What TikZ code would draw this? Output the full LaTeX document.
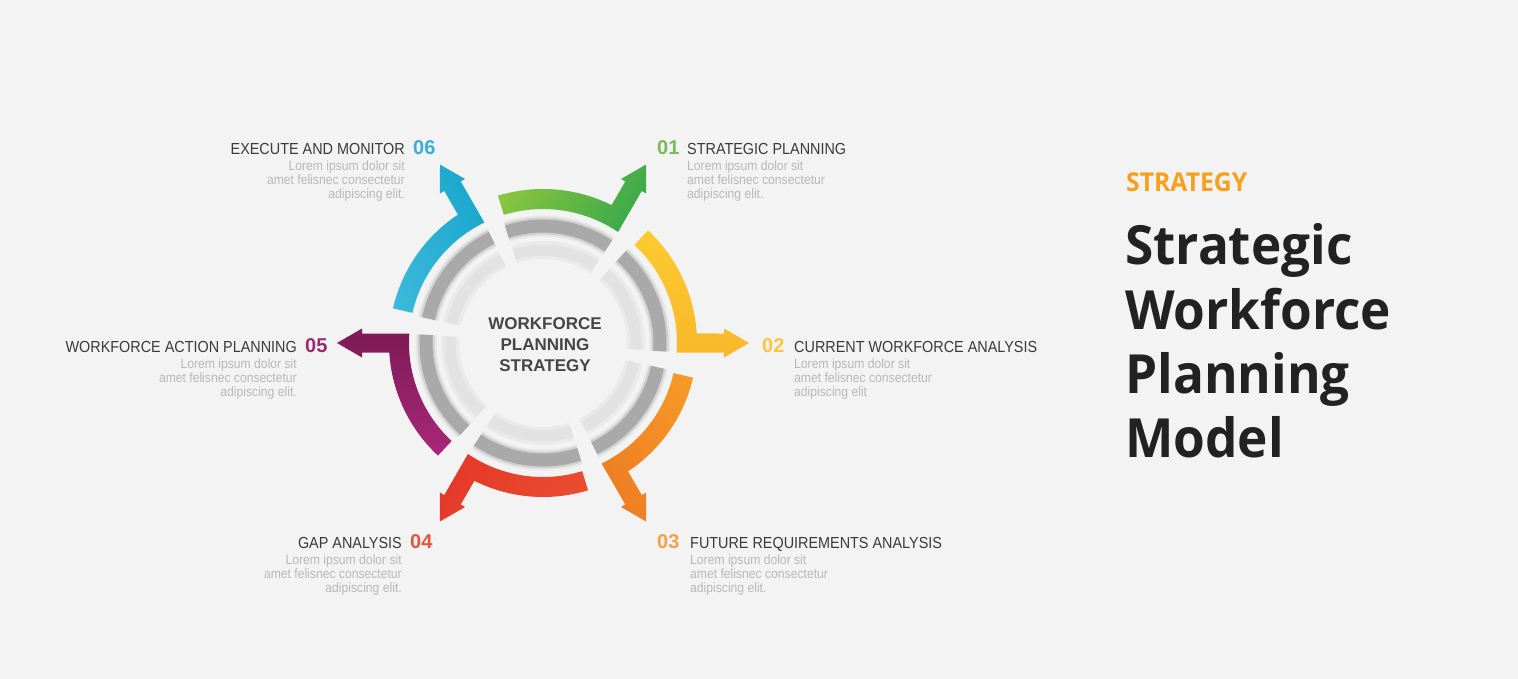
\documentclass[tikz,border=0pt]{standalone}
\usepackage{fontspec}
\setmainfont{Liberation Sans}
\newfontfamily\labfont[FakeStretch=0.9]{Liberation Sans}
\newfontfamily\titlefont[FakeStretch=0.95]{Open Sans}
\definecolor{bgc}{HTML}{F3F3F3}
\definecolor{ringc}{HTML}{A9A9A9}
\definecolor{innerc}{HTML}{E2E2E2}
\definecolor{headc}{HTML}{3A3A3A}
\definecolor{loremc}{HTML}{B8B8B8}
\definecolor{centc}{HTML}{454545}
\definecolor{titlec}{HTML}{222222}
\definecolor{orangetitle}{HTML}{F7A01C}
\definecolor{cyanS}{HTML}{3DBADB}
\definecolor{cyanE}{HTML}{1BA8CD}
\definecolor{greenS}{HTML}{8CC63F}
\definecolor{greenE}{HTML}{3BA94A}
\definecolor{yellowS}{HTML}{FDCB2F}
\definecolor{yellowE}{HTML}{F8B82B}
\definecolor{orangeS}{HTML}{F69C26}
\definecolor{orangeE}{HTML}{EE7D23}
\definecolor{redS}{HTML}{EA4D30}
\definecolor{redE}{HTML}{E5392A}
\definecolor{purpleS}{HTML}{A82878}
\definecolor{purpleE}{HTML}{7D1A55}
\definecolor{n1}{HTML}{7ABA57}
\definecolor{n2}{HTML}{FBC53F}
\definecolor{n3}{HTML}{F4A24A}
\definecolor{n4}{HTML}{E5543A}
\definecolor{n5}{HTML}{9B2B6E}
\definecolor{n6}{HTML}{39AED6}
\tikzset{
  head/.style={font=\labfont\fontsize{16}{16}\selectfont, text=headc, inner sep=0pt},
  num/.style={font=\bfseries\fontsize{20}{20}\selectfont, inner sep=0pt},
  lorem/.style={font=\labfont\fontsize{13.5}{13.5}\selectfont, text=loremc, inner sep=0pt},
  ringblurA/.style={draw=ringc, line width=21pt, draw opacity=0.15},
  ringblurB/.style={draw=ringc, line width=17pt, draw opacity=0.35},
  ringcore/.style={draw=ringc, line width=13pt},
  innerblur/.style={draw=innerc, line width=18pt, draw opacity=0.5},
  innercore/.style={draw=innerc, line width=11pt},
  titleline/.style={font=\titlefont\bfseries\fontsize{54}{54}\selectfont, text=titlec, anchor=base west, inner sep=0pt},
}
\newcommand\segarrow[3]{%
  \begin{scope}[transform canvas={shift={(543pt,-343pt)}, rotate=#1}]
    \shade[top color=#2, bottom color=#3, draw=none] (47:154) arc[start angle=47, end angle=3.54, radius=154]
      -- (181,9.5) -- (181,14.5) -- (206,0) -- (181,-14.5) -- (181,-9.5)
      -- (133.66,-9.5) arc[start angle=-4.07, end angle=47, radius=134] -- cycle;
  \end{scope}}
\newcommand\loremblock[5]{%
  \node[lorem, anchor=#2] (#1a) at (#3,-#4-16) {Lorem ipsum dolor sit};
  \node[lorem, anchor=#2] (#1b) at (#3,-#4-30) {amet felisnec consectetur};
  \node[lorem, anchor=#2] (#1c) at (#3,-#4-44) {#5};}
\begin{document}
\begin{tikzpicture}[x=1pt,y=1pt]
\useasboundingbox (0,0) rectangle (1518,-679);
\fill[bgc] (0,0) rectangle (1518,-679);
\coordinate (C) at (543,-343);

% inner faint ring and gray ring
\begin{scope}[shift={(C)}]
  \foreach \k in {0,...,5} {
    \pgfmathsetmacro\sa{56+60*\k}
    \pgfmathsetmacro\sb{108+60*\k}
    \draw[innerblur] (\sa:93) arc[start angle=\sa, end angle=\sb, radius=93];
    \draw[innercore] (\sa:93) arc[start angle=\sa, end angle=\sb, radius=93];
    \draw[ringblurA] (\sa:117) arc[start angle=\sa, end angle=\sb, radius=117];
    \draw[ringblurB] (\sa:117) arc[start angle=\sa, end angle=\sb, radius=117];
    \draw[ringcore] (\sa:117) arc[start angle=\sa, end angle=\sb, radius=117];
  }
\end{scope}

% coloured arrows
\segarrow{60}{greenS}{greenE}
\segarrow{0}{yellowS}{yellowE}
\segarrow{-60}{orangeS}{orangeE}
\segarrow{-120}{redS}{redE}
\segarrow{180}{purpleS}{purpleE}
\segarrow{120}{cyanS}{cyanE}

% centre text
\node[font=\bfseries\fontsize{17}{21}\selectfont, text=centc, align=center, inner sep=0pt] (centre) at (545,-345) {WORKFORCE\\PLANNING\\STRATEGY};

% 06
\node[head, anchor=base east] (h6) at (405,-155) {EXECUTE AND MONITOR};
\node[num, text=n6, anchor=base west] (n6) at (413,-155) {06};
\loremblock{l6}{base east}{405}{155}{adipiscing elit.}
% 01
\node[num, text=n1, anchor=base west] (n1) at (657,-155) {01};
\node[head, anchor=base west] (h1) at (687,-155) {STRATEGIC PLANNING};
\loremblock{l1}{base west}{687}{155}{adipiscing elit.}
% 02
\node[num, text=n2, anchor=base west] (n2) at (762,-352) {02};
\node[head, anchor=base west] (h2) at (794,-352) {CURRENT WORKFORCE ANALYSIS};
\loremblock{l2}{base west}{794}{352}{adipiscing elit}
% 05
\node[head, anchor=base east] (h5) at (297,-352) {WORKFORCE ACTION PLANNING};
\node[num, text=n5, anchor=base west] (n5) at (305,-352) {05};
\loremblock{l5}{base east}{297}{352}{adipiscing elit.}
% 03
\node[num, text=n3, anchor=base west] (n3) at (657,-548) {03};
\node[head, anchor=base west] (h3) at (690,-548) {FUTURE REQUIREMENTS ANALYSIS};
\loremblock{l3}{base west}{690}{548}{adipiscing elit.}
% 04
\node[head, anchor=base east] (h4) at (402,-548) {GAP ANALYSIS};
\node[num, text=n4, anchor=base west] (n4) at (410,-548) {04};
\loremblock{l4}{base east}{402}{548}{adipiscing elit.}

% title block
\node[font=\titlefont\bfseries\fontsize{26}{26}\selectfont, text=orangetitle, anchor=base west, inner sep=0pt] (kicker) at (1126,-192) {STRATEGY};
\node[titleline] (t1) at (1125,-265) {Strategic};
\node[titleline] (t2) at (1125,-329) {Workforce};
\node[titleline] (t3) at (1125,-393) {Planning};
\node[titleline] (t4) at (1125,-457) {Model};
\end{tikzpicture}
\end{document}
